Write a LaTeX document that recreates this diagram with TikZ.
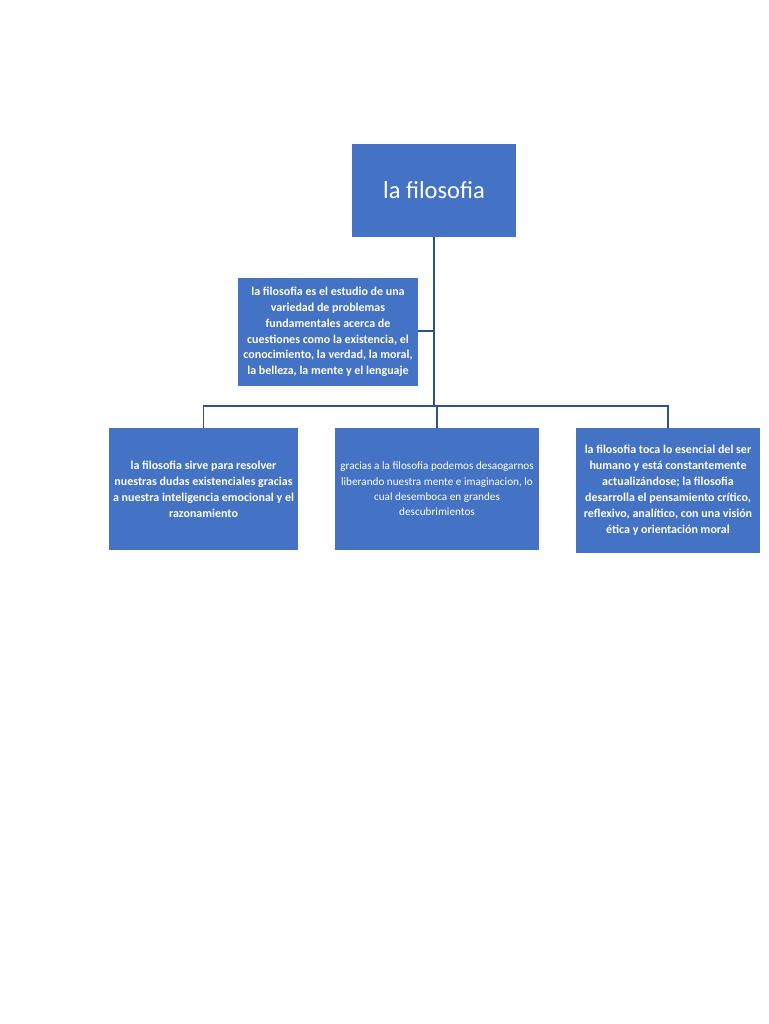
\documentclass[tikz,border=0pt]{standalone}
\usepackage{fontspec}
\setmainfont{Carlito}
\definecolor{boxblue}{HTML}{4472C4}
\definecolor{lineblue}{HTML}{2F528F}
\begin{document}
\begin{tikzpicture}[x=1pt,y=-1pt,
  box/.style={fill=boxblue, draw=none, inner sep=0pt, text=white, align=center},
  conn/.style={draw=lineblue, line width=1.3pt}]
\useasboundingbox[fill=white] (0,0) rectangle (768,1024);
\node[box, minimum width=164pt, minimum height=93pt, font=\fontsize{24.5}{28}\selectfont] (top) at (434,190.5) {la filosofia};
\node[box, minimum width=180pt, minimum height=108pt, font=\bfseries\fontsize{12}{15.7}\selectfont] (note) at (328,332) {la filosofia es el estudio de una\\variedad de problemas\\fundamentales acerca de\\cuestiones como la existencia, el\\conocimiento, la verdad, la moral,\\la belleza, la mente y el lenguaje};
\node[box, minimum width=189pt, minimum height=122pt, font=\bfseries\fontsize{12}{16}\selectfont] (b1) at (203.5,489) {la filosofia sirve para resolver\\nuestras dudas existenciales gracias\\a nuestra inteligencia emocional y el\\razonamiento};
\node[box, minimum width=204pt, minimum height=122pt, font=\fontsize{11.2}{15.3}\selectfont] (b2) at (437,489) {gracias a la filosofia podemos desaogarnos\\liberando nuestra mente e imaginacion, lo\\cual desemboca en grandes\\descubrimientos};
\node[box, minimum width=184pt, minimum height=125pt, font=\bfseries\fontsize{12}{16}\selectfont] (b3) at (668,490.5) {la filosofia toca lo esencial del ser\\humano y está constantemente\\actualizándose; la filosofia\\desarrolla el pensamiento crítico,\\reflexivo, analítico, con una visión\\ética y orientación moral};
\coordinate (hub) at (434,406);
\coordinate (nj) at (434,331);
\draw[conn] (top.south) -- (hub);
\draw[conn] (note.east |- nj) -- (nj);
\draw[conn] (b1.north) -- (b1.north |- hub) -- (b3.north |- hub) -- (b3.north);
\draw[conn] (hub) -- (hub -| b2.north) -- (b2.north);
\end{tikzpicture}
\end{document}
